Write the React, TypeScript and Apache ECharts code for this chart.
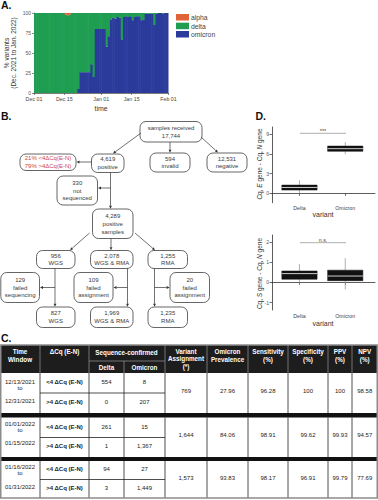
import React, { useEffect, useRef } from 'react';
import * as echarts from 'echarts';

const FONT = 'Liberation Sans, Arial, Helvetica, sans-serif';

// ---------- Panel A data (daily % of variants, Dec 01 2021 .. Jan 31 2022) ----------
const variantNames = ['alpha', 'delta', 'omicron'];
const variantColors = ['#e0643a', '#1f9e52', '#2b3b9b'];
const omicronPct = [
  0, 0, 0, 0, 0, 0, 0, 0, 0, 0, 0, 0, 0, 0, 0, 0, 0, 0, 0, 0,
  5, 26, 26, 26, 26, 26, 36, 20, 80, 80, 80, 80, 80, 58, 71,
  92, 94, 93, 95, 94, 67, 95, 96, 95, 96, 91, 95, 96, 96, 91, 92,
  99, 99, 99, 99, 85, 99, 100, 100, 99, 100, 100,
];
const deltaPct = [
  100, 100, 100, 100, 100, 100, 100, 100, 100, 100, 100, 100, 100, 100, 98, 97, 98, 100, 100, 100,
  95, 74, 74, 74, 74, 74, 64, 80, 20, 20, 20, 20, 20, 42, 29,
  8, 6, 7, 5, 6, 33, 5, 4, 5, 4, 9, 5, 4, 4, 9, 8,
  1, 1, 1, 1, 15, 1, 0, 0, 1, 0, 0,
];
const alphaPct = [
  0, 0, 0, 0, 0, 0, 0, 0, 0, 0, 0, 0, 0, 0, 2, 3, 2, 0, 0, 0,
  0, 0, 0, 0, 0, 0, 0, 0, 0, 0, 0, 0, 0, 0, 0,
  0, 0, 0, 0, 0, 0, 0, 0, 0, 0, 0, 0, 0, 0, 0, 0,
  0, 0, 0, 0, 0, 0, 0, 0, 0, 0, 0,
];
const timeTickDays = [0, 14, 31, 45, 62];
const timeTickLabels = ['Dec 01', 'Dec 15', 'Jan 01', 'Jan 15', 'Feb 01'];
const yTicksA = [0, 25, 50, 75, 100];

// ---------- Panel D data: [x, lower whisker, Q1, median, Q3, upper whisker] ----------
const dCategories = ['Delta', 'Omicron'];
const eMinusN = [
  [1, 0.0, 0.5, 0.9, 1.26, 2.0],
  [2, 5.95, 6.4, 6.8, 7.2, 7.8],
];
const sMinusN = [
  [1, -0.02, 0.15, 0.43, 0.56, 0.9],
  [2, -0.35, 0.08, 0.31, 0.6, 1.19],
];
const d1Ticks = [0, 3, 6, 9];
const d2Ticks = [-1, 0, 1, 2];

// ---------- Panel C table data ----------
const tableWindows = [
  ['12/13/2021', '12/31/2021'],
  ['01/01/2022', '01/15/2022'],
  ['01/16/2022', '01/31/2022'],
];
const dcqRows = ['<4 \u0394Cq (E-N)', '>4 \u0394Cq (E-N)'];
const seqDelta = [['554', '0'], ['261', '1'], ['94', '3']];
const seqOmicron = [['8', '207'], ['15', '1,367'], ['27', '1,449']];
const variantAssignment = ['769', '1,644', '1,573'];
const omicronPrevalence = ['27.96', '84.06', '93.83'];
const sensitivity = ['96.28', '98.91', '98.17'];
const specificity = ['100', '99.62', '96.91'];
const ppv = ['100', '99.93', '99.79'];
const npv = ['98.58', '94.57', '77.69'];

// ---------- Panel B flowchart labels ----------
const flowLabels: Record<string, string> = {
  received: 'samples received\n17,744',
  invalid: '594\ninvalid',
  negative: '12,531\nnegative',
  positive: '4,619\npositive',
  ratio: '21% <4\u0394Cq(E-N)\n79% >4\u0394Cq(E-N)',
  notSeq: '330\nnot\nsequenced',
  pos2: '4,289\npositive\nsamples',
  wgs: '956\nWGS',
  both: '2,078\nWGS & RMA',
  rma: '1,255\nRMA',
  failSeq: '129\nfailed\nsequencing',
  failA1: '109\nfailed\nassignment',
  failA2: '20\nfailed\nassignment',
  wgs2: '827\nWGS',
  both2: '1,969\nWGS & RMA',
  rma2: '1,235\nRMA',
};

// ---------- helpers ----------
function txt(text: string, x: number, y: number, o: any = {}) {
  const style: any = {
    text,
    fill: o.fill || '#333',
    fontSize: o.size || 6,
    fontFamily: FONT,
    fontWeight: o.weight || 'normal',
    align: o.align || 'center',
    verticalAlign: 'middle',
  };
  if (o.lh) style.lineHeight = o.lh;
  if (o.rich) style.rich = o.rich;
  return { type: 'text', x, y, rotation: o.rot || 0, silent: true, z: 20, style };
}
function ln(x1: number, y1: number, x2: number, y2: number, stroke = '#333', lw = 0.7, z = 15) {
  return { type: 'line', silent: true, z, shape: { x1, y1, x2, y2 }, style: { stroke, lineWidth: lw } };
}
function rc(x: number, y: number, w: number, h: number, fill: string, stroke?: string, lw = 0, r = 0, z = 10) {
  const style: any = { fill };
  if (stroke) { style.stroke = stroke; style.lineWidth = lw; }
  return { type: 'rect', silent: true, z, shape: { x, y, width: w, height: h, r }, style };
}
function arrow(x1: number, y1: number, x2: number, y2: number) {
  const ang = Math.atan2(y2 - y1, x2 - x1);
  const L = 3, W = 1.4;
  const bx = x2 - L * Math.cos(ang), by = y2 - L * Math.sin(ang);
  const px = -Math.sin(ang) * W, py = Math.cos(ang) * W;
  return [
    ln(x1, y1, bx, by, '#333', 0.7),
    { type: 'polygon', silent: true, z: 15, shape: { points: [[x2, y2], [bx + px, by + py], [bx - px, by - py]] }, style: { fill: '#333' } },
  ];
}

function buildFlow() {
  const boxes: Record<string, number[]> = {
    received: [140, 121.5, 202, 142],
    invalid: [150, 153, 190, 172],
    negative: [207, 153, 247, 172],
    positive: [91.5, 154, 124, 172.5],
    ratio: [20, 154, 76, 170.5],
    notSeq: [57, 176, 97.5, 205],
    pos2: [92.5, 209, 133, 238.5],
    wgs: [36.5, 250.5, 75, 268.5],
    both: [90.5, 250.5, 133, 268.5],
    rma: [148, 250.5, 187.5, 268.5],
    failSeq: [0.8, 272.5, 39.5, 302.5],
    failA1: [74, 272.5, 113, 302.5],
    failA2: [170, 272.5, 209.5, 302.5],
    wgs2: [36.5, 307, 75, 327.5],
    both2: [90.5, 307, 133, 327.5],
    rma2: [148, 307, 187.5, 327.5],
  };
  const els: any[] = [];
  Object.keys(boxes).forEach((k) => {
    const [x0, y0, x1, y1] = boxes[k];
    els.push(rc(x0, y0, x1 - x0, y1 - y0, '#fff', '#555', 0.9, 6, 12));
    const red = k === 'ratio';
    els.push(txt(flowLabels[k], (x0 + x1) / 2, (y0 + y1) / 2, { size: 6, lh: 7.8, fill: red ? '#d0453a' : '#3a3a3a' }));
  });
  const arrows = [
    [141, 133, 113, 153.5],
    [170, 142, 170, 152.8],
    [201, 137, 218, 152.5],
    [91.5, 162, 76.5, 162],
    [110.5, 172.5, 110.5, 208.8],
    [110.5, 188, 98, 188],
    [89.5, 233, 70, 250.2],
    [111, 238.5, 111, 250.2],
    [135, 233, 155, 250.2],
    [55, 268.5, 55, 306.8],
    [55, 287.5, 40, 287.5],
    [127.5, 268.5, 127.5, 306.8],
    [127.5, 287.5, 113.5, 287.5],
    [154.5, 268.5, 154.5, 306.8],
    [154.5, 287.5, 169.6, 287.5],
  ];
  arrows.forEach((a) => els.push(...arrow(a[0], a[1], a[2], a[3])));
  return els;
}

function buildTable() {
  const colX = [0, 40, 89, 124, 165, 207, 248, 288, 328, 352, 377.5];
  const hTop = 345, hMid = 361, hBot = 373;
  const gTop = [373, 417.5, 461];
  const gBot = [413, 457, 498];
  const gSplit = [393, 437.5, 479.5];
  const els: any[] = [];
  els.push(rc(0, hTop, 377.5, hBot - hTop, '#1d1d1d'));
  els.push(rc(0, hBot, 377.5, 498 - hBot, '#ffffff'));
  els.push(rc(0, 413, 377.5, 4.5, '#111', undefined, 0, 0, 16));
  els.push(rc(0, 457, 377.5, 4, '#111', undefined, 0, 0, 16));
  for (let i = 1; i < colX.length - 1; i++) {
    if (i === 3) els.push(ln(colX[i], hMid, colX[i], hBot, '#8a8a8a', 0.8));
    else els.push(ln(colX[i], hTop, colX[i], hBot, '#8a8a8a', 0.8));
  }
  els.push(ln(colX[2], hMid, colX[4], hMid, '#8a8a8a', 0.8));
  for (let g = 0; g < 3; g++) {
    for (let i = 1; i < colX.length - 1; i++) els.push(ln(colX[i], gTop[g], colX[i], gBot[g], '#222', 0.8));
    els.push(ln(colX[1], gSplit[g], colX[4], gSplit[g], '#222', 0.8));
  }
  els.push(rc(0.75, hTop, 376.5, 498 - hTop, 'none', '#8c8c8c', 1.5, 0, 17));
  const H = { fill: '#fff', weight: 'bold', size: 6.3, lh: 7.8 };
  els.push(txt('Time', 20, 351, H));
  els.push(txt('Window', 20, 359, H));
  els.push(txt('\u0394Cq (E-N)', 64.5, 351, H));
  els.push(txt('Sequence-confirmed', 126.5, 352, H));
  els.push(txt('Delta', 106.5, 367, H));
  els.push(txt('Omicron', 144.5, 367, H));
  els.push(txt('Variant', 186, 351, H));
  els.push(txt('Assignment', 186, 358.5, H));
  els.push(txt('(*)', 186, 366, H));
  const hdr2 = [
    ['Omicron', 'Prevalence'],
    ['Sensitivity', '(%)'],
    ['Specificity', '(%)'],
    ['PPV', '(%)'],
    ['NPV', '(%)'],
  ];
  hdr2.forEach((h, k) => {
    const cx = (colX[5 + k] + colX[6 + k]) / 2;
    els.push(txt(h[0], cx, 351, H));
    els.push(txt(h[1], cx, 359, H));
  });
  const B = { fill: '#222', size: 6 };
  const dateY = [[381.7, 387.7, 400.8], [424.3, 430, 443.3], [467.3, 472.7, 486.7]];
  for (let g = 0; g < 3; g++) {
    els.push(txt(tableWindows[g][0], 20, dateY[g][0], B));
    els.push(txt('to', 20, dateY[g][1], B));
    els.push(txt(tableWindows[g][1], 20, dateY[g][2], B));
    const r1 = (gTop[g] + gSplit[g]) / 2 - 0.8;
    const r2 = (gSplit[g] + gBot[g]) / 2 - 1;
    const rows = [r1, r2];
    for (let r = 0; r < 2; r++) {
      els.push(txt(dcqRows[r], 64.5, rows[r], { fill: '#222', size: 6, weight: 'bold' }));
      els.push(txt(seqDelta[g][r], 106.5, rows[r], B));
      els.push(txt(seqOmicron[g][r], 144.5, rows[r], B));
    }
    const gc = (gTop[g] + gBot[g]) / 2 - 1.8;
    const vals = [variantAssignment[g], omicronPrevalence[g], sensitivity[g], specificity[g], ppv[g], npv[g]];
    vals.forEach((v, k) => els.push(txt(v, (colX[4 + k] + colX[5 + k]) / 2, gc, B)));
  }
  return els;
}

function boxRender(params: any, api: any) {
  const x = api.value(0);
  const lo = api.coord([x, api.value(1)]);
  const q1 = api.coord([x, api.value(2)]);
  const md = api.coord([x, api.value(3)]);
  const q3 = api.coord([x, api.value(4)]);
  const hi = api.coord([x, api.value(5)]);
  const w = api.size([0.77, 0])[0];
  return {
    type: 'group',
    children: [
      { type: 'line', shape: { x1: lo[0], y1: lo[1], x2: q1[0], y2: q1[1] }, style: { stroke: '#9a9a9a', lineWidth: 0.8 } },
      { type: 'line', shape: { x1: q3[0], y1: q3[1], x2: hi[0], y2: hi[1] }, style: { stroke: '#9a9a9a', lineWidth: 0.8 } },
      { type: 'rect', shape: { x: q3[0] - w / 2, y: q3[1], width: w, height: q1[1] - q3[1] }, style: { fill: '#111', stroke: '#111', lineWidth: 0.5 } },
      { type: 'line', shape: { x1: md[0] - w / 2, y1: md[1], x2: md[0] + w / 2, y2: md[1] }, style: { stroke: '#fff', lineWidth: 0.8 } },
    ],
  };
}

// stacked daily bars: omicron (bottom), delta, alpha (top)
function dayRender(params: any, api: any) {
  const d = api.value(0);
  const vals = [api.value(1), api.value(2), api.value(3)];
  const cols = [variantColors[2], variantColors[1], variantColors[0]];
  const children: any[] = [];
  let base = 0;
  for (let k = 0; k < 3; k++) {
    const v = vals[k];
    if (v > 0) {
      const p0 = api.coord([d, base + v]);
      const p1 = api.coord([d + 1, base]);
      const extra = d < 61 ? 0.6 : 0;
      children.push({
        type: 'rect',
        shape: { x: p0[0], y: p0[1], width: p1[0] - p0[0] + extra, height: p1[1] - p0[1] },
        style: { fill: cols[k] },
      });
    }
    base += v;
  }
  return { type: 'group', children };
}

export default function App() {
  const ref = useRef<HTMLDivElement>(null);
  useEffect(() => {
    if (!ref.current) return;
    const chart = echarts.init(ref.current, undefined, { renderer: 'svg' });

    const dailyRows = omicronPct.map((o, i) => [i, o, deltaPct[i], alphaPct[i]]);

    const axisLineStyle = { lineStyle: { color: '#333', width: 0.8 } };
    const dXAxis = (gridIndex: number) => ({
      type: 'value', gridIndex, min: 0.4, max: 2.65, position: 'bottom',
      axisLine: { show: true, ...axisLineStyle },
      axisTick: { show: true, length: 2.5, customValues: [1, 2], lineStyle: { color: '#333', width: 0.7 } },
      axisLabel: { customValues: [1, 2], formatter: (v: number) => dCategories[Math.round(v) - 1] || '', fontSize: 5.3, color: '#444', fontFamily: FONT, margin: 3 },
      splitLine: { show: false },
    });
    const dYAxis = (gridIndex: number, min: number, max: number, ticks: number[]) => ({
      type: 'value', gridIndex, min, max, position: 'left',
      axisLine: { show: true, ...axisLineStyle },
      axisTick: { show: true, length: 2.5, customValues: ticks, lineStyle: { color: '#333', width: 0.7 } },
      axisLabel: { customValues: ticks, fontSize: 5, color: '#555', fontFamily: FONT, margin: 3 },
      splitLine: { show: false },
    });

    const legendEls: any[] = [];
    const legY = [14, 22.7, 31];
    variantNames.forEach((n, i) => {
      legendEls.push(rc(176, legY[i], 13, 6.5, variantColors[i]));
      legendEls.push(txt(n, 191, legY[i] + 3.4, { align: 'left', size: 6.8, fill: '#444' }));
    });

    const yTitleRich = { i: { fontStyle: 'italic', fontSize: 6.5, fontFamily: FONT, fill: '#333' } };

    const graphics: any[] = [
      txt('A.', 1, 5, { align: 'left', size: 10.5, weight: 'bold', fill: '#111' }),
      txt('B.', 1, 115.5, { align: 'left', size: 10.5, weight: 'bold', fill: '#111' }),
      txt('C.', 1, 338, { align: 'left', size: 10.5, weight: 'bold', fill: '#111' }),
      txt('D.', 255.5, 116, { align: 'left', size: 10.5, weight: 'bold', fill: '#111' }),
      txt('% variants\n(Dec. 2021 to Jan. 2022)', 9.8, 53, { rot: Math.PI / 2, size: 6.5, lh: 7, fill: '#333' }),
      txt('time', 101, 108.3, { size: 6.9, fill: '#333' }),
      ...legendEls,
      txt('Cq, {i|E} gene - Cq, {i|N} gene', 259, 164, { rot: Math.PI / 2, size: 6.5, fill: '#333', rich: yTitleRich }),
      txt('Cq, {i|S} gene - Cq, {i|N} gene', 259, 273.5, { rot: Math.PI / 2, size: 6.5, fill: '#333', rich: yTitleRich }),
      txt('variant', 323, 214, { size: 7, fill: '#333' }),
      txt('variant', 323, 323.5, { size: 7, fill: '#333' }),
      ln(300, 133.3, 346, 133.3, '#9a9a9a', 0.8),
      txt('***', 323, 131.3, { size: 5.5, fill: '#444' }),
      ln(300, 242.7, 346, 242.7, '#9a9a9a', 0.8),
      txt('n.s.', 323, 239.8, { size: 5.3, fill: '#444' }),
      ...buildFlow(),
      ...buildTable(),
    ];

    chart.setOption({
      animation: false,
      backgroundColor: '#fff',
      textStyle: { fontFamily: FONT },
      grid: [
        { left: 34, top: 13, width: 134.5, height: 80 },
        { left: 272, top: 127, width: 103, height: 75.7 },
        { left: 272, top: 235, width: 103, height: 75 },
      ],
      xAxis: [
        {
          type: 'value', gridIndex: 0, min: 0, max: 62, position: 'bottom',
          axisLine: { show: true, lineStyle: { color: '#444', width: 0.7 } },
          axisTick: { show: true, length: 2, customValues: timeTickDays, lineStyle: { color: '#444', width: 0.6 } },
          axisLabel: {
            customValues: timeTickDays,
            formatter: (v: number) => timeTickLabels[timeTickDays.indexOf(Math.round(v))] || '',
            fontSize: 5.3, color: '#444', fontFamily: FONT, margin: 3,
          },
          splitLine: { show: false },
        },
        dXAxis(1),
        dXAxis(2),
      ],
      yAxis: [
        {
          type: 'value', gridIndex: 0, min: 0, max: 100, position: 'left',
          axisLine: { show: true, lineStyle: { color: '#444', width: 0.7 } },
          axisTick: { show: true, length: 2, customValues: yTicksA, lineStyle: { color: '#444', width: 0.6 } },
          axisLabel: { customValues: yTicksA, fontSize: 5, color: '#555', fontFamily: FONT, margin: 3 },
          splitLine: { show: false },
        },
        dYAxis(1, -1.42, 10.1, d1Ticks),
        dYAxis(2, -1.37, 2.34, d2Ticks),
      ],
      series: [
        {
          type: 'custom', name: 'variants', xAxisIndex: 0, yAxisIndex: 0, data: dailyRows,
          renderItem: dayRender, encode: { x: 0, y: [1, 2, 3] }, silent: true, z: 1,
        },
        {
          type: 'custom', name: 'E-N', xAxisIndex: 1, yAxisIndex: 1, data: eMinusN,
          renderItem: boxRender, encode: { x: 0, y: [1, 2, 3, 4, 5] }, silent: true,
        },
        {
          type: 'custom', name: 'S-N', xAxisIndex: 2, yAxisIndex: 2, data: sMinusN,
          renderItem: boxRender, encode: { x: 0, y: [1, 2, 3, 4, 5] }, silent: true,
        },
      ],
      graphic: graphics,
    });
    return () => chart.dispose();
  }, []);
  return <div ref={ref} style={{ position: 'fixed', left: 0, top: 0, width: 378, height: 500, background: '#fff' }} />;
}
